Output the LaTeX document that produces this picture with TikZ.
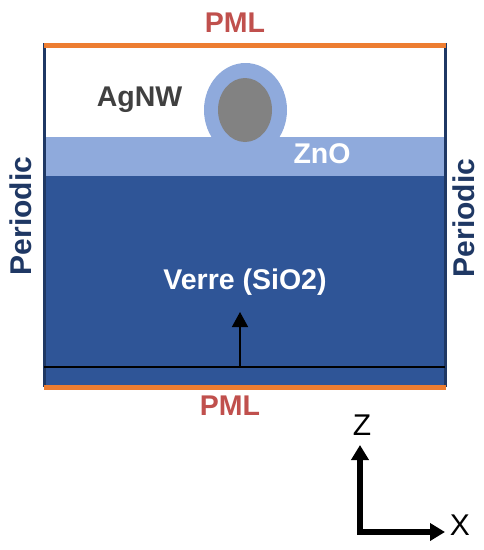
\documentclass[tikz,border=0pt]{standalone}
\usepackage{fontspec}
\setmainfont{Liberation Sans}
\usetikzlibrary{arrows.meta}
\definecolor{orangeb}{HTML}{ED7D31}
\definecolor{glass}{HTML}{2F5597}
\definecolor{zno}{HTML}{8FAADC}
\definecolor{frame}{HTML}{1F3864}
\definecolor{pml}{HTML}{C0504D}
\definecolor{navy}{HTML}{1F3864}
\definecolor{agtxt}{HTML}{404040}
\tikzset{
  x=1pt,y=-1pt,
  lab/.style={font=\bfseries\fontsize{28.5}{30}\selectfont,inner sep=0pt,anchor=center},
  pmltxt/.style={lab,text=pml},
  pertxt/.style={lab,text=navy,rotate=90,font=\bfseries\fontsize{30}{32}\selectfont},
  whitetxt/.style={lab,text=white},
  axtxt/.style={font=\fontsize{30}{32}\selectfont,inner sep=0pt,text=black},
  pmlbar/.style={draw=orangeb,line width=5pt},
  sidebar/.style={draw=frame,line width=3pt},
  axis/.style={line width=5.5pt,-{Triangle[length=15pt,width=17pt]}},
  probe/.style={line width=1.6pt,-{Triangle[length=15pt,width=16pt]}}
}
\begin{document}
\begin{tikzpicture}
\useasboundingbox (0,0) rectangle (484,550);
% layers
\fill[zno] (245.5,110) ellipse [x radius=41.5,y radius=47];
\fill[zno] (45,137) rectangle (445,176);
\fill[glass] (45,176) rectangle (445,385);
\fill[gray!98] (245,110) ellipse [x radius=27,y radius=32];
% frame
\coordinate (tl) at (44,45); \coordinate (tr) at (446,45);
\coordinate (bl) at (44,387); \coordinate (br) at (446,387);
\coordinate (sidelt) at (44,43); \coordinate (sidelb) at (44,387);
\coordinate (sidert) at (445,43); \coordinate (siderb) at (445,387);
\draw[sidebar] (sidelt) -- (sidelb);
\draw[sidebar] (sidert) -- (siderb);
\draw[pmlbar] (tl) -- (tr);
\draw[pmlbar] (bl) -- (br);
% source line and arrow
\coordinate (sl) at (44,367); \coordinate (sr) at (445,367);
\coordinate (s0) at (240,367); \coordinate (s1) at (240,312);
\draw[line width=1.2pt] (sl) -- (sr);
\draw[probe] (s0) -- (s1);
% labels
\node[pmltxt] (pmltop) at (235,23) {PML};
\node[pmltxt] (pmlbot) at (230,406) {PML};
\node[pertxt] (perl) at (21,216) {Periodic};
\node[pertxt] (perr) at (464,218) {Periodic};
\node[lab,text=agtxt] (ag) at (139.5,100) {AgNW};
\node[whitetxt] (zn) at (322,154) {ZnO};
\node[whitetxt] (verre) at (245,282) {Verre (SiO2)};
% axes
\coordinate (o) at (360,532); \coordinate (zt) at (360,445); \coordinate (xt) at (445,532);
\coordinate (oh) at (357.25,532);
\draw[axis] (o) -- (zt);
\draw[axis] (oh) -- (xt);
\node[axtxt] (zl) at (362,425) {Z};
\node[axtxt] (xl) at (460,525) {X};
\end{tikzpicture}
\end{document}
